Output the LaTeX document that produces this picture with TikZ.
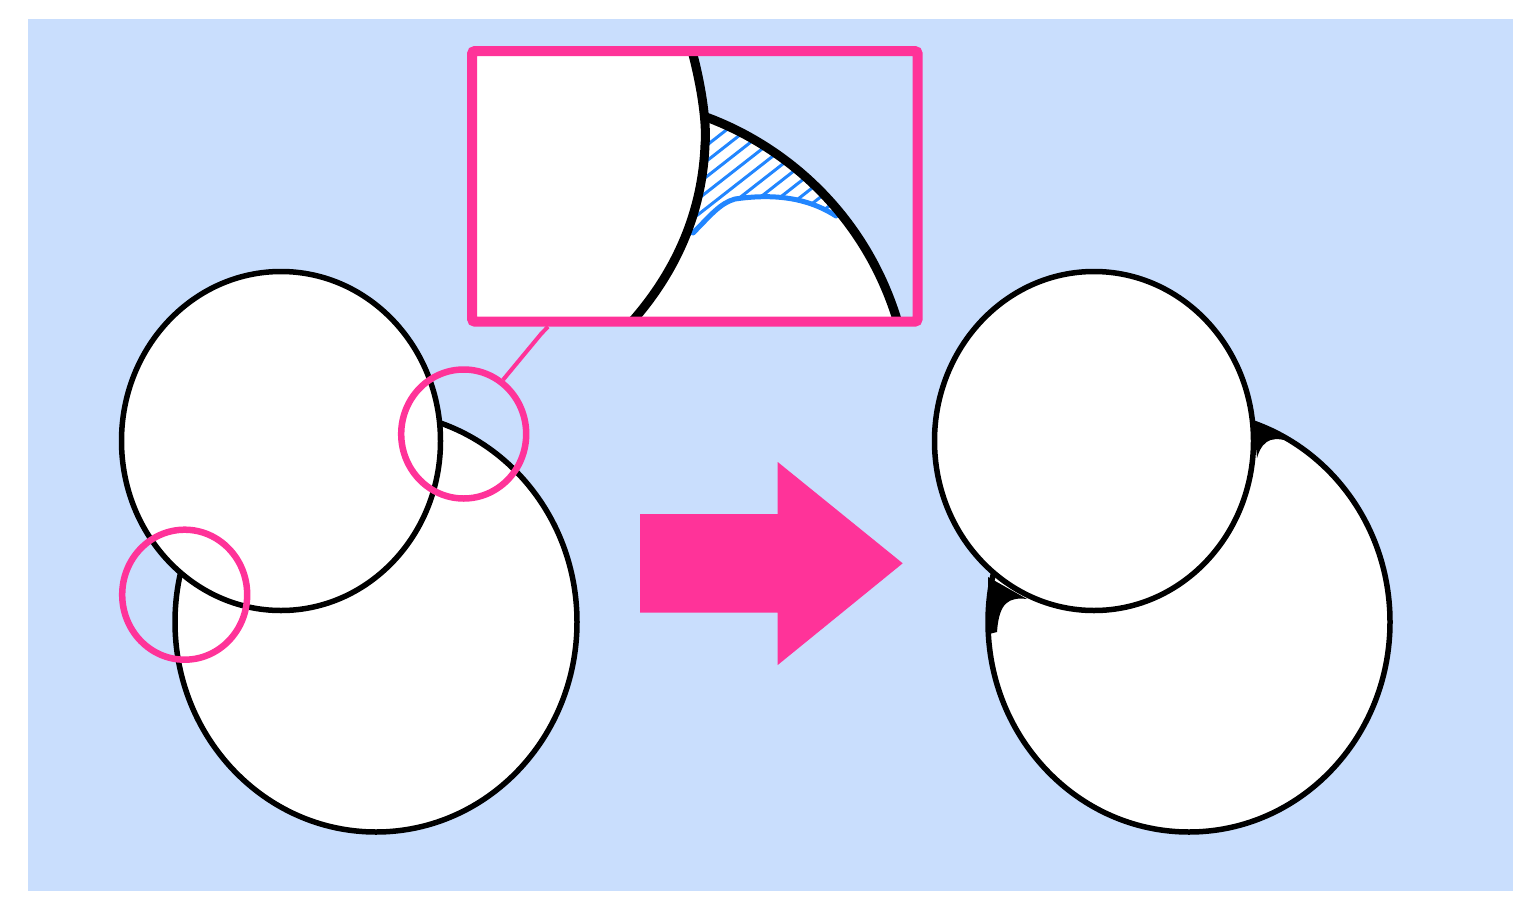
\documentclass[tikz,border=0pt]{standalone}
\usetikzlibrary{shapes.geometric}
\definecolor{bgblue}{HTML}{C9DEFD}
\definecolor{hotpink}{HTML}{FF3399}
\definecolor{hatchblue}{HTML}{2286FF}
\begin{document}
\begin{tikzpicture}[x=1pt,y=-1pt,
 fig/.style={fill=white,draw=black,line width=5.5pt},
 lens/.style={ellipse,draw=hotpink,line width=6.5pt,inner sep=0pt},
 framebox/.style={rectangle,draw=hotpink,line width=10pt,rounded corners=3pt,inner sep=0pt},
 zoomline/.style={draw=black,line width=9pt},
 hatchline/.style={draw=hatchblue,line width=3pt},
 rimline/.style={draw=hatchblue,line width=5pt,line cap=round},
 link/.style={draw=hotpink,line width=4pt},
 fillet/.style={fill=black},
 bigarrow/.style={fill=hotpink}]
\useasboundingbox (0,0) rectangle (1536,905);
\fill[white] (0,0) rectangle (1536,905);
\fill[bgblue] (28,19) rectangle (1513,891);
% left figure
\filldraw[fig] (376,622) ellipse [x radius=201, y radius=210];
\filldraw[fig] (281,441) ellipse [x radius=159.5, y radius=169.5];
% right figure
\begin{scope}[xshift=813pt]
\filldraw[fig] (376,622) ellipse [x radius=201, y radius=210];
\filldraw[fig] (281,441) ellipse [x radius=159.5, y radius=169.5];
\fill[fillet] (441,426) -- (462,431) -- (481,443) .. controls (462,436) and (450,437) .. (444,458) -- cycle;
\fill[fillet] (175,577) -- (214,599) .. controls (196,597) and (186,602) .. (184,632) -- (176,634) -- cycle;
\end{scope}
% magnifier circles
\node[lens, minimum width=125pt, minimum height=129pt] (zc) at (463.7,434) {};
\node[lens, minimum width=125pt, minimum height=130pt] (zb) at (184.7,594.7) {};
% arrow
\fill[bigarrow] (640,514) -- (777.7,514) -- (777.7,462) -- (902.7,563.3) -- (777.7,665) -- (777.7,612.7) -- (640,612.7) -- cycle;
% inset content
\begin{scope}
\clip (472,51) rectangle (917.7,321.7);
\fill[white] (460,40) -- (689,40) .. controls (702,85) and (707,125) .. (705,145) .. controls (702,220) and (670,280) .. (628,326) -- (460,330) -- cycle;
\fill[white] (706,117) .. controls (790,148) and (870,220) .. (900,330) -- (460,330) -- (460,117) -- cycle;
\begin{scope}
\clip (704,112) -- (712,118) -- (745,132) -- (767,146) -- (795,164) -- (842,212) -- (836,216) -- (806,199) -- (777,196) -- (743,198) -- (728,202) -- (713,213) -- (690,236) -- (700,200) -- (705,150) -- cycle;
\foreach \k in {0,...,20} \draw[hatchline] (560+20*\k,260) -- ++(220,-172);
\end{scope}
\draw[rimline] (693,233) .. controls (710,216) and (720,203) .. (735,199) .. controls (770,194) and (805,196) .. (836,216);
\draw[zoomline] (706,117) .. controls (790,148) and (870,220) .. (900,330);
\draw[zoomline] (689,40) .. controls (702,85) and (707,125) .. (705,145) .. controls (702,220) and (670,280) .. (628,326);
\end{scope}
\node[framebox, minimum width=445.7pt, minimum height=270.7pt] (inset) at (694.85,186.35) {};
% connector
\coordinate (bend) at (541,334);
\coordinate (lk) at (548,0);
\draw[link] (zc.54) -- (bend) -- (inset.south -| lk);
\end{tikzpicture}
\end{document}
